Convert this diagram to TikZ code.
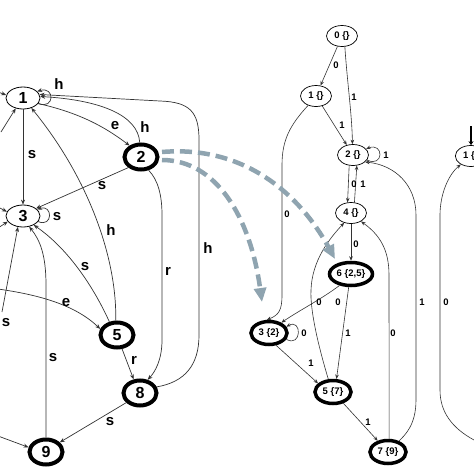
\documentclass[tikz,border=0pt]{standalone}
\usepackage{fontspec}
\setmainfont{Liberation Sans}
\usetikzlibrary{shapes.geometric,arrows.meta}
\definecolor{dashcol}{RGB}{143,164,176}
\begin{document}
\begin{tikzpicture}[x=1pt,y=-1pt,
  lnode/.style={ellipse,draw=black,line width=0.8pt,minimum width=34pt,minimum height=22pt,inner sep=0pt,font=\bfseries\fontsize{16}{16}\selectfont},
  lnodeT/.style={lnode,line width=4pt,minimum width=33pt,minimum height=25pt},
  rnode/.style={ellipse,draw=black,line width=0.7pt,minimum width=31pt,minimum height=21pt,inner sep=0pt,font=\bfseries\fontsize{9.5}{9.5}\selectfont},
  rnodeT/.style={rnode,line width=3.5pt,minimum width=36pt,minimum height=23pt},
  edge/.style={draw=black!80,line width=0.7pt,-{Stealth[length=5pt,width=4pt]}},
  redge/.style={draw=black!80,line width=0.6pt,-{Stealth[length=4.5pt,width=3.6pt]}},
  lab/.style={inner sep=0pt,font=\bfseries\fontsize{15}{15}\selectfont},
  rlab/.style={inner sep=0pt,font=\bfseries\fontsize{9.5}{9.5}\selectfont},
  bluedash/.style={draw=dashcol,line width=4.5pt,dash pattern=on 12pt off 6pt,-{Triangle[length=14pt,width=12pt]}}]
\useasboundingbox (0,0) rectangle (474,474);
\clip (0,0) rectangle (474,474);
% ---------- left graph nodes ----------
\node[lnode] (n1) at (23,98) {1};
\node[lnode] (n3) at (23,216) {3};
\node[lnodeT] (n2) at (141,157) {2};
\node[lnodeT] (n5) at (117,335) {5};
\node[lnodeT] (n8) at (140,393) {8};
\node[lnodeT] (n9) at (46,452) {9};
% off-page ends
\coordinate (o1) at (-2,92);
\coordinate (o2) at (1,132);
\coordinate (o3) at (-2,207);
\coordinate (o4) at (-2,228);
\coordinate (o5) at (2,312);
\coordinate (o6) at (-2,289);
\coordinate (o7) at (-2,436);
% ---------- left graph edges ----------
\draw[edge] (o1) -- (n1.170);
\draw[edge] (o2) -- (n1.-125);
\draw[edge] (o3) -- (n3.165);
\draw[edge] (o4) -- (n3.-160);
\draw[edge] (o5) -- (n3.-115);
\draw[edge] (o6) .. controls (40,295) and (75,305) .. (n5.160);
\draw[edge] (o7) -- (n9.165);
\draw[edge] (n1.-20) .. controls (55,110) and (55,86) .. (n1.25);
\draw[edge] (n3.-20) .. controls (53,228) and (53,204) .. (n3.25);
\draw[edge] (n1) -- (n3);
\draw[edge] (n1.-20) .. controls (80,113) and (105,127) .. (n2.135);
\draw[edge] (n2.95) .. controls (138,115) and (100,100) .. (n1.5);
\draw[edge] (n8.20) .. controls (185,382) and (199,365) .. (199,335) -- (199,140) .. controls (199,112) and (190,102) .. (160,101) -- (n1.12);
\draw[edge] (n2.220) -- (n3.30);
\draw[edge] (n2.-60) .. controls (158,180) and (162,195) .. (162,215) -- (162,340) .. controls (162,360) and (155,372) .. (n8.60);
\draw[edge] (n5.95) .. controls (117,260) and (90,180) .. (n1.-50);
\draw[edge] (n5.120) .. controls (95,290) and (70,250) .. (n3.-40);
\draw[edge] (n9.north) -- (46,285) .. controls (46,255) and (40,240) .. (n3.-60);
\draw[edge] (n5.-70) -- (n8.115);
\draw[edge] (n8.215) -- (n9.35);
% ---------- left labels ----------
\node[lab] (lh1) at (59,84) {h};
\node[lab] (ls3) at (57,217) {s};
\node[lab] (ls13) at (32,155) {s};
\node[lab] (le12) at (115,126) {e};
\node[lab] (lh21) at (145,127) {h};
\node[lab] (ls23) at (102,186) {s};
\node[lab] (lh51) at (111,230) {h};
\node[lab] (lh81) at (208,248) {h};
\node[lab] (lr28) at (168,271) {r};
\node[lab] (ls53) at (85,267) {s};
\node[lab] (le) at (66,303) {e};
\node[lab] (ls) at (6,323) {s};
\node[lab] (ls93) at (53,358) {s};
\node[lab] (lr58) at (134,360) {r};
\node[lab] (ls89) at (110,422) {s};
% ---------- right graph nodes ----------
\node[rnode] (A0) at (342,36) {0 \{\}};
\node[rnode] (A1) at (316,96) {1 \{\}};
\node[rnode] (A2) at (353,155) {2 \{\}};
\node[rnode] (A4) at (351,213) {4 \{\}};
\node[rnodeT,minimum width=43pt] (A6) at (351,274) {6 \{2,5\}};
\node[rnodeT] (A3) at (269,333) {3 \{2\}};
\node[rnodeT] (A5) at (333,392) {5 \{7\}};
\node[rnodeT] (A7) at (388,452) {7 \{9\}};
\node[rnode,anchor=west] (B1) at (455,156) {1 \{\}};
\coordinate (oB) at (474,440);
\coordinate (oT) at (471,126);
% ---------- right graph edges ----------
\draw[redge] (A0) -- (A1);
\draw[redge] (A0.-75) .. controls (347,80) and (352,115) .. (A2.93);
\draw[redge] (A1) -- (A2);
\draw[redge] (A2.-20) .. controls (384,168) and (384,142) .. (A2.25);
\draw[redge] (A2.250) -- (A4.108);
\draw[redge] (A4.72) -- (A2.290);
\draw[redge] (A1.230) .. controls (290,125) and (282,140) .. (282,165) -- (282,295) .. controls (282,310) and (279,315) .. (A3.100);
\draw[redge] (A4) -- (A6);
\draw[redge] (A6.225) .. controls (320,300) and (300,310) .. (A3.40);
\draw[redge] (A5.110) .. controls (318,345) and (310,310) .. (311,290) .. controls (312,260) and (330,238) .. (A4.235);
\draw[redge] (A3.-20) .. controls (302,348) and (302,318) .. (A3.20);
\draw[redge] (A3.-60) -- (A5.150);
\draw[redge] (A6.-100) -- (A5.75);
\draw[redge] (A5) -- (A7);
\draw[redge] (A7.85) -- (389,275) .. controls (389,250) and (380,235) .. (A4.-40);
\draw[redge] (A7.45) .. controls (405,435) and (416,425) .. (416,400) -- (416,215) .. controls (416,185) and (395,165) .. (A2.-30);
\draw[redge] (oB) .. controls (452,428) and (440,412) .. (440,390) -- (440,215) .. controls (440,195) and (448,175) .. (B1.220);
\draw[line width=2pt,-{Stealth[length=4pt,width=5pt]}] (oT) -- (B1.north -| oT);
% ---------- right labels ----------
\node[rlab] (r01) at (336,65) {0};
\node[rlab] (r02) at (354,97) {1};
\node[rlab] (r12) at (342,125) {1};
\node[rlab] (r22) at (386,155) {1};
\node[rlab] (r24) at (354,184) {0};
\node[rlab] (r42) at (363,184) {1};
\node[rlab] (r13) at (287,214) {0};
\node[rlab] (r46) at (356,244) {0};
\node[rlab] (r54) at (319,302) {0};
\node[rlab] (r63) at (338,302) {0};
\node[rlab] (r33) at (304,333) {0};
\node[rlab] (r35) at (311,363) {1};
\node[rlab] (r65) at (348,333) {1};
\node[rlab] (r74) at (393,333) {0};
\node[rlab] (r57) at (368,422) {1};
\node[rlab] (r72) at (422,302) {1};
\node[rlab] (rB) at (446,302) {0};
% ---------- dashed mapping arrows ----------
\coordinate (d1s) at (162,160);
\coordinate (d1e) at (262,302);
\coordinate (d2s) at (162,152);
\coordinate (d2e) at (335,259);
\draw[bluedash] (d1s) .. controls (215,160) and (250,215) .. (d1e);
\draw[bluedash] (d2s) .. controls (245,145) and (300,195) .. (d2e);
\end{tikzpicture}
\end{document}
